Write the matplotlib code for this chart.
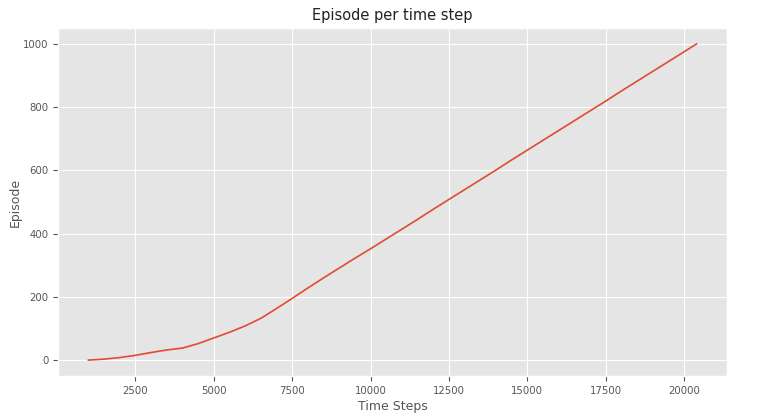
import numpy as np
import matplotlib
matplotlib.use("Agg")
import matplotlib.pyplot as plt

# episode count at every 500 time steps
time_steps = [1000, 1500, 2000, 2500, 3000, 3500, 4000, 4500, 5000, 5500,
              6000, 6500, 7000, 7500, 8000, 8500, 9000, 9500, 10000, 10500,
              11000, 11500, 12000, 12500, 13000, 13500, 14000, 14500, 15000, 15500,
              16000, 16500, 17000, 17500, 18000, 18500, 19000, 19500, 20000, 20400]
episodes = [0, 3, 8, 15, 24, 32, 38, 52, 70, 88,
            108, 132, 163, 195, 228, 260, 291, 322, 352, 383,
            414, 445, 477, 508, 539, 570, 601, 633, 664, 695,
            726, 757, 788, 819, 851, 882, 913, 944, 975, 1000]

plt.style.use('ggplot')
fig = plt.figure(figsize=(7.68, 4.2), dpi=100)
ax = fig.add_axes([0.0755, 0.105, 0.871, 0.828])
ax.plot(time_steps, episodes, color='#E24A33', linewidth=1.2)
ax.set_title('Episode per time step', fontsize=10.5, color='#222222')
ax.set_xlabel('Time Steps', fontsize=9, labelpad=3)
ax.set_ylabel('Episode', fontsize=9, labelpad=1)
ax.tick_params(labelsize=7.3)
ax.set_yticks([0, 200, 400, 600, 800, 1000])
fig.savefig('out.png', dpi=100)
